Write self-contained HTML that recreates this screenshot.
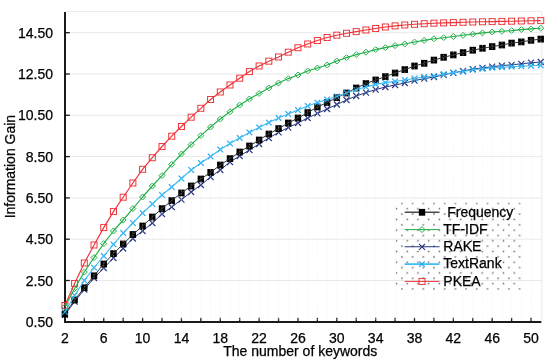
<!DOCTYPE html>
<html><head><meta charset="utf-8"><title>Information Gain</title>
<style>
html,body{margin:0;padding:0;background:#fff}
svg{display:block}
text{font-family:"Liberation Sans",Arial,sans-serif;font-size:14px;fill:#000;stroke:#000;stroke-width:0.25px}
</style></head><body>
<svg width="550" height="362" viewBox="0 0 550 362">
<defs>
<pattern id="dots" x="401.9" y="203.4" width="10.7" height="10.7" patternUnits="userSpaceOnUse">
<rect x="-0.7" y="-0.7" width="1.4" height="1.4" fill="#555"/>
<rect x="10" y="-0.7" width="1.4" height="1.4" fill="#555"/>
<rect x="-0.7" y="10" width="1.4" height="1.4" fill="#555"/>
<rect x="10" y="10" width="1.4" height="1.4" fill="#555"/>
<rect x="4.65" y="4.65" width="1.4" height="1.4" fill="#555"/>
</pattern>
</defs>
<rect width="550" height="362" fill="#fff"/>

<g stroke="#e9e9e9" stroke-width="1" fill="none">
<line x1="66" y1="32.7" x2="542" y2="32.7"/>
<line x1="66" y1="74.0" x2="542" y2="74.0"/>
<line x1="66" y1="115.3" x2="542" y2="115.3"/>
<line x1="66" y1="156.6" x2="542" y2="156.6"/>
<line x1="66" y1="197.9" x2="542" y2="197.9"/>
<line x1="66" y1="239.2" x2="542" y2="239.2"/>
<line x1="66" y1="280.5" x2="542" y2="280.5"/>
<line x1="66" y1="11.6" x2="542" y2="11.6"/><line x1="542" y1="11.6" x2="542" y2="321"/>
</g>
<g stroke="#1a1a1a" fill="none">
<line x1="65.0" y1="12" x2="65.0" y2="322.9" stroke-width="2"/>
<line x1="64.0" y1="321.9" x2="541.3" y2="321.9" stroke-width="2"/>
<line x1="65" y1="32.7" x2="69.8" y2="32.7" stroke-width="1.3"/>
<line x1="65" y1="74.0" x2="69.8" y2="74.0" stroke-width="1.3"/>
<line x1="65" y1="115.3" x2="69.8" y2="115.3" stroke-width="1.3"/>
<line x1="65" y1="156.6" x2="69.8" y2="156.6" stroke-width="1.3"/>
<line x1="65" y1="197.9" x2="69.8" y2="197.9" stroke-width="1.3"/>
<line x1="65" y1="239.2" x2="69.8" y2="239.2" stroke-width="1.3"/>
<line x1="65" y1="280.5" x2="69.8" y2="280.5" stroke-width="1.3"/>
<line x1="84.32" y1="317.8" x2="84.32" y2="321" stroke-width="1.3"/>
<line x1="103.74" y1="317.8" x2="103.74" y2="321" stroke-width="1.3"/>
<line x1="123.17" y1="317.8" x2="123.17" y2="321" stroke-width="1.3"/>
<line x1="142.59" y1="317.8" x2="142.59" y2="321" stroke-width="1.3"/>
<line x1="162.01" y1="317.8" x2="162.01" y2="321" stroke-width="1.3"/>
<line x1="181.43" y1="317.8" x2="181.43" y2="321" stroke-width="1.3"/>
<line x1="200.85" y1="317.8" x2="200.85" y2="321" stroke-width="1.3"/>
<line x1="220.28" y1="317.8" x2="220.28" y2="321" stroke-width="1.3"/>
<line x1="239.7" y1="317.8" x2="239.7" y2="321" stroke-width="1.3"/>
<line x1="259.12" y1="317.8" x2="259.12" y2="321" stroke-width="1.3"/>
<line x1="278.54" y1="317.8" x2="278.54" y2="321" stroke-width="1.3"/>
<line x1="297.96" y1="317.8" x2="297.96" y2="321" stroke-width="1.3"/>
<line x1="317.39" y1="317.8" x2="317.39" y2="321" stroke-width="1.3"/>
<line x1="336.81" y1="317.8" x2="336.81" y2="321" stroke-width="1.3"/>
<line x1="356.23" y1="317.8" x2="356.23" y2="321" stroke-width="1.3"/>
<line x1="375.65" y1="317.8" x2="375.65" y2="321" stroke-width="1.3"/>
<line x1="395.07" y1="317.8" x2="395.07" y2="321" stroke-width="1.3"/>
<line x1="414.5" y1="317.8" x2="414.5" y2="321" stroke-width="1.3"/>
<line x1="433.92" y1="317.8" x2="433.92" y2="321" stroke-width="1.3"/>
<line x1="453.34" y1="317.8" x2="453.34" y2="321" stroke-width="1.3"/>
<line x1="472.76" y1="317.8" x2="472.76" y2="321" stroke-width="1.3"/>
<line x1="492.18" y1="317.8" x2="492.18" y2="321" stroke-width="1.3"/>
<line x1="511.61" y1="317.8" x2="511.61" y2="321" stroke-width="1.3"/>
<line x1="531.03" y1="317.8" x2="531.03" y2="321" stroke-width="1.3"/>
</g>
<g>
<polyline points="64.9,314.8 74.61,301.7 84.32,289.5 94.03,278 103.74,268 113.46,258 123.17,248.5 132.88,238.5 142.59,231 152.3,223 162.01,214 171.72,207 181.43,199.6 191.14,192 200.85,185 210.56,177 220.28,170 229.99,162 239.7,156 249.41,150 259.12,144 268.83,138 278.54,132.4 288.25,127.6 297.96,123 307.68,118 317.39,113.4 327.1,109 336.81,104.5 346.52,100 356.23,96 365.94,92.6 375.65,89.6 385.36,87 395.07,85 404.78,83 414.5,80.6 424.21,78.6 433.92,77 443.63,74.8 453.34,72.8 463.05,71 472.76,69.1 482.47,67.9 492.18,66.7 501.89,65.6 511.61,64.8 521.32,63.9 531.03,62.7 540.74,62" fill="none" stroke="#27357f" stroke-width="1.0" stroke-linejoin="round"/>
<path d="M61.90 311.80L67.90 317.80M61.90 317.80L67.90 311.80" fill="none" stroke="#27357f" stroke-width="1.1"/>
<path d="M71.61 298.70L77.61 304.70M71.61 304.70L77.61 298.70" fill="none" stroke="#27357f" stroke-width="1.1"/>
<path d="M81.32 286.50L87.32 292.50M81.32 292.50L87.32 286.50" fill="none" stroke="#27357f" stroke-width="1.1"/>
<path d="M91.03 275.00L97.03 281.00M91.03 281.00L97.03 275.00" fill="none" stroke="#27357f" stroke-width="1.1"/>
<path d="M100.74 265.00L106.74 271.00M100.74 271.00L106.74 265.00" fill="none" stroke="#27357f" stroke-width="1.1"/>
<path d="M110.46 255.00L116.46 261.00M110.46 261.00L116.46 255.00" fill="none" stroke="#27357f" stroke-width="1.1"/>
<path d="M120.17 245.50L126.17 251.50M120.17 251.50L126.17 245.50" fill="none" stroke="#27357f" stroke-width="1.1"/>
<path d="M129.88 235.50L135.88 241.50M129.88 241.50L135.88 235.50" fill="none" stroke="#27357f" stroke-width="1.1"/>
<path d="M139.59 228.00L145.59 234.00M139.59 234.00L145.59 228.00" fill="none" stroke="#27357f" stroke-width="1.1"/>
<path d="M149.30 220.00L155.30 226.00M149.30 226.00L155.30 220.00" fill="none" stroke="#27357f" stroke-width="1.1"/>
<path d="M159.01 211.00L165.01 217.00M159.01 217.00L165.01 211.00" fill="none" stroke="#27357f" stroke-width="1.1"/>
<path d="M168.72 204.00L174.72 210.00M168.72 210.00L174.72 204.00" fill="none" stroke="#27357f" stroke-width="1.1"/>
<path d="M178.43 196.60L184.43 202.60M178.43 202.60L184.43 196.60" fill="none" stroke="#27357f" stroke-width="1.1"/>
<path d="M188.14 189.00L194.14 195.00M188.14 195.00L194.14 189.00" fill="none" stroke="#27357f" stroke-width="1.1"/>
<path d="M197.85 182.00L203.85 188.00M197.85 188.00L203.85 182.00" fill="none" stroke="#27357f" stroke-width="1.1"/>
<path d="M207.56 174.00L213.56 180.00M207.56 180.00L213.56 174.00" fill="none" stroke="#27357f" stroke-width="1.1"/>
<path d="M217.28 167.00L223.28 173.00M217.28 173.00L223.28 167.00" fill="none" stroke="#27357f" stroke-width="1.1"/>
<path d="M226.99 159.00L232.99 165.00M226.99 165.00L232.99 159.00" fill="none" stroke="#27357f" stroke-width="1.1"/>
<path d="M236.70 153.00L242.70 159.00M236.70 159.00L242.70 153.00" fill="none" stroke="#27357f" stroke-width="1.1"/>
<path d="M246.41 147.00L252.41 153.00M246.41 153.00L252.41 147.00" fill="none" stroke="#27357f" stroke-width="1.1"/>
<path d="M256.12 141.00L262.12 147.00M256.12 147.00L262.12 141.00" fill="none" stroke="#27357f" stroke-width="1.1"/>
<path d="M265.83 135.00L271.83 141.00M265.83 141.00L271.83 135.00" fill="none" stroke="#27357f" stroke-width="1.1"/>
<path d="M275.54 129.40L281.54 135.40M275.54 135.40L281.54 129.40" fill="none" stroke="#27357f" stroke-width="1.1"/>
<path d="M285.25 124.60L291.25 130.60M285.25 130.60L291.25 124.60" fill="none" stroke="#27357f" stroke-width="1.1"/>
<path d="M294.96 120.00L300.96 126.00M294.96 126.00L300.96 120.00" fill="none" stroke="#27357f" stroke-width="1.1"/>
<path d="M304.68 115.00L310.68 121.00M304.68 121.00L310.68 115.00" fill="none" stroke="#27357f" stroke-width="1.1"/>
<path d="M314.39 110.40L320.39 116.40M314.39 116.40L320.39 110.40" fill="none" stroke="#27357f" stroke-width="1.1"/>
<path d="M324.10 106.00L330.10 112.00M324.10 112.00L330.10 106.00" fill="none" stroke="#27357f" stroke-width="1.1"/>
<path d="M333.81 101.50L339.81 107.50M333.81 107.50L339.81 101.50" fill="none" stroke="#27357f" stroke-width="1.1"/>
<path d="M343.52 97.00L349.52 103.00M343.52 103.00L349.52 97.00" fill="none" stroke="#27357f" stroke-width="1.1"/>
<path d="M353.23 93.00L359.23 99.00M353.23 99.00L359.23 93.00" fill="none" stroke="#27357f" stroke-width="1.1"/>
<path d="M362.94 89.60L368.94 95.60M362.94 95.60L368.94 89.60" fill="none" stroke="#27357f" stroke-width="1.1"/>
<path d="M372.65 86.60L378.65 92.60M372.65 92.60L378.65 86.60" fill="none" stroke="#27357f" stroke-width="1.1"/>
<path d="M382.36 84.00L388.36 90.00M382.36 90.00L388.36 84.00" fill="none" stroke="#27357f" stroke-width="1.1"/>
<path d="M392.07 82.00L398.07 88.00M392.07 88.00L398.07 82.00" fill="none" stroke="#27357f" stroke-width="1.1"/>
<path d="M401.78 80.00L407.78 86.00M401.78 86.00L407.78 80.00" fill="none" stroke="#27357f" stroke-width="1.1"/>
<path d="M411.50 77.60L417.50 83.60M411.50 83.60L417.50 77.60" fill="none" stroke="#27357f" stroke-width="1.1"/>
<path d="M421.21 75.60L427.21 81.60M421.21 81.60L427.21 75.60" fill="none" stroke="#27357f" stroke-width="1.1"/>
<path d="M430.92 74.00L436.92 80.00M430.92 80.00L436.92 74.00" fill="none" stroke="#27357f" stroke-width="1.1"/>
<path d="M440.63 71.80L446.63 77.80M440.63 77.80L446.63 71.80" fill="none" stroke="#27357f" stroke-width="1.1"/>
<path d="M450.34 69.80L456.34 75.80M450.34 75.80L456.34 69.80" fill="none" stroke="#27357f" stroke-width="1.1"/>
<path d="M460.05 68.00L466.05 74.00M460.05 74.00L466.05 68.00" fill="none" stroke="#27357f" stroke-width="1.1"/>
<path d="M469.76 66.10L475.76 72.10M469.76 72.10L475.76 66.10" fill="none" stroke="#27357f" stroke-width="1.1"/>
<path d="M479.47 64.90L485.47 70.90M479.47 70.90L485.47 64.90" fill="none" stroke="#27357f" stroke-width="1.1"/>
<path d="M489.18 63.70L495.18 69.70M489.18 69.70L495.18 63.70" fill="none" stroke="#27357f" stroke-width="1.1"/>
<path d="M498.89 62.60L504.89 68.60M498.89 68.60L504.89 62.60" fill="none" stroke="#27357f" stroke-width="1.1"/>
<path d="M508.61 61.80L514.61 67.80M508.61 67.80L514.61 61.80" fill="none" stroke="#27357f" stroke-width="1.1"/>
<path d="M518.32 60.90L524.32 66.90M518.32 66.90L524.32 60.90" fill="none" stroke="#27357f" stroke-width="1.1"/>
<path d="M528.03 59.70L534.03 65.70M528.03 65.70L534.03 59.70" fill="none" stroke="#27357f" stroke-width="1.1"/>
<path d="M537.74 59.00L543.74 65.00M537.74 65.00L543.74 59.00" fill="none" stroke="#27357f" stroke-width="1.1"/>
<rect x="61.70" y="310.60" width="6.4" height="6.8" fill="#000"/>
<rect x="71.41" y="296.60" width="6.4" height="6.8" fill="#000"/>
<rect x="81.12" y="284.30" width="6.4" height="6.8" fill="#000"/>
<rect x="90.83" y="272.40" width="6.4" height="6.8" fill="#000"/>
<rect x="100.54" y="260.60" width="6.4" height="6.8" fill="#000"/>
<rect x="110.26" y="250.20" width="6.4" height="6.8" fill="#000"/>
<rect x="119.97" y="240.60" width="6.4" height="6.8" fill="#000"/>
<rect x="129.68" y="231.10" width="6.4" height="6.8" fill="#000"/>
<rect x="139.39" y="222.60" width="6.4" height="6.8" fill="#000"/>
<rect x="149.10" y="213.60" width="6.4" height="6.8" fill="#000"/>
<rect x="158.81" y="205.20" width="6.4" height="6.8" fill="#000"/>
<rect x="168.52" y="197.20" width="6.4" height="6.8" fill="#000"/>
<rect x="178.23" y="189.60" width="6.4" height="6.8" fill="#000"/>
<rect x="187.94" y="182.60" width="6.4" height="6.8" fill="#000"/>
<rect x="197.65" y="175.60" width="6.4" height="6.8" fill="#000"/>
<rect x="207.36" y="169.00" width="6.4" height="6.8" fill="#000"/>
<rect x="217.08" y="161.60" width="6.4" height="6.8" fill="#000"/>
<rect x="226.79" y="155.20" width="6.4" height="6.8" fill="#000"/>
<rect x="236.50" y="148.60" width="6.4" height="6.8" fill="#000"/>
<rect x="246.21" y="142.60" width="6.4" height="6.8" fill="#000"/>
<rect x="255.92" y="136.60" width="6.4" height="6.8" fill="#000"/>
<rect x="265.63" y="130.60" width="6.4" height="6.8" fill="#000"/>
<rect x="275.34" y="125.20" width="6.4" height="6.8" fill="#000"/>
<rect x="285.05" y="119.60" width="6.4" height="6.8" fill="#000"/>
<rect x="294.76" y="114.60" width="6.4" height="6.8" fill="#000"/>
<rect x="304.48" y="109.20" width="6.4" height="6.8" fill="#000"/>
<rect x="314.19" y="103.60" width="6.4" height="6.8" fill="#000"/>
<rect x="323.90" y="99.10" width="6.4" height="6.8" fill="#000"/>
<rect x="333.61" y="94.20" width="6.4" height="6.8" fill="#000"/>
<rect x="343.32" y="89.60" width="6.4" height="6.8" fill="#000"/>
<rect x="353.03" y="84.60" width="6.4" height="6.8" fill="#000"/>
<rect x="362.74" y="80.20" width="6.4" height="6.8" fill="#000"/>
<rect x="372.45" y="76.60" width="6.4" height="6.8" fill="#000"/>
<rect x="382.16" y="73.20" width="6.4" height="6.8" fill="#000"/>
<rect x="391.87" y="69.60" width="6.4" height="6.8" fill="#000"/>
<rect x="401.58" y="66.20" width="6.4" height="6.8" fill="#000"/>
<rect x="411.30" y="62.60" width="6.4" height="6.8" fill="#000"/>
<rect x="421.01" y="59.90" width="6.4" height="6.8" fill="#000"/>
<rect x="430.72" y="56.70" width="6.4" height="6.8" fill="#000"/>
<rect x="440.43" y="53.90" width="6.4" height="6.8" fill="#000"/>
<rect x="450.14" y="51.50" width="6.4" height="6.8" fill="#000"/>
<rect x="459.85" y="49.20" width="6.4" height="6.8" fill="#000"/>
<rect x="469.56" y="46.80" width="6.4" height="6.8" fill="#000"/>
<rect x="479.27" y="44.90" width="6.4" height="6.8" fill="#000"/>
<rect x="488.98" y="43.20" width="6.4" height="6.8" fill="#000"/>
<rect x="498.69" y="41.60" width="6.4" height="6.8" fill="#000"/>
<rect x="508.41" y="39.70" width="6.4" height="6.8" fill="#000"/>
<rect x="518.12" y="38.50" width="6.4" height="6.8" fill="#000"/>
<rect x="527.83" y="36.90" width="6.4" height="6.8" fill="#000"/>
<rect x="537.54" y="35.70" width="6.4" height="6.8" fill="#000"/>
<path d="M62.10 309.20L67.70 314.80M62.10 314.80L67.70 309.20" fill="none" stroke="#1fa8ef" stroke-width="1.2"/>
<path d="M71.81 292.70L77.41 298.30M71.81 298.30L77.41 292.70" fill="none" stroke="#1fa8ef" stroke-width="1.2"/>
<path d="M81.52 277.70L87.12 283.30M81.52 283.30L87.12 277.70" fill="none" stroke="#1fa8ef" stroke-width="1.2"/>
<path d="M91.23 264.80L96.83 270.40M91.23 270.40L96.83 264.80" fill="none" stroke="#1fa8ef" stroke-width="1.2"/>
<path d="M100.94 253.20L106.54 258.80M100.94 258.80L106.54 253.20" fill="none" stroke="#1fa8ef" stroke-width="1.2"/>
<path d="M110.66 241.60L116.26 247.20M110.66 247.20L116.26 241.60" fill="none" stroke="#1fa8ef" stroke-width="1.2"/>
<path d="M120.37 230.20L125.97 235.80M120.37 235.80L125.97 230.20" fill="none" stroke="#1fa8ef" stroke-width="1.2"/>
<path d="M130.08 220.20L135.68 225.80M130.08 225.80L135.68 220.20" fill="none" stroke="#1fa8ef" stroke-width="1.2"/>
<path d="M139.79 210.20L145.39 215.80M139.79 215.80L145.39 210.20" fill="none" stroke="#1fa8ef" stroke-width="1.2"/>
<path d="M149.50 201.20L155.10 206.80M149.50 206.80L155.10 201.20" fill="none" stroke="#1fa8ef" stroke-width="1.2"/>
<path d="M159.21 192.20L164.81 197.80M159.21 197.80L164.81 192.20" fill="none" stroke="#1fa8ef" stroke-width="1.2"/>
<path d="M168.92 184.20L174.52 189.80M168.92 189.80L174.52 184.20" fill="none" stroke="#1fa8ef" stroke-width="1.2"/>
<path d="M178.63 175.70L184.23 181.30M178.63 181.30L184.23 175.70" fill="none" stroke="#1fa8ef" stroke-width="1.2"/>
<path d="M188.34 167.20L193.94 172.80M188.34 172.80L193.94 167.20" fill="none" stroke="#1fa8ef" stroke-width="1.2"/>
<path d="M198.05 160.20L203.65 165.80M198.05 165.80L203.65 160.20" fill="none" stroke="#1fa8ef" stroke-width="1.2"/>
<path d="M207.76 153.70L213.36 159.30M207.76 159.30L213.36 153.70" fill="none" stroke="#1fa8ef" stroke-width="1.2"/>
<path d="M217.48 146.70L223.08 152.30M217.48 152.30L223.08 146.70" fill="none" stroke="#1fa8ef" stroke-width="1.2"/>
<path d="M227.19 140.70L232.79 146.30M227.19 146.30L232.79 140.70" fill="none" stroke="#1fa8ef" stroke-width="1.2"/>
<path d="M236.90 135.20L242.50 140.80M236.90 140.80L242.50 135.20" fill="none" stroke="#1fa8ef" stroke-width="1.2"/>
<path d="M246.61 129.60L252.21 135.20M246.61 135.20L252.21 129.60" fill="none" stroke="#1fa8ef" stroke-width="1.2"/>
<path d="M256.32 124.60L261.92 130.20M256.32 130.20L261.92 124.60" fill="none" stroke="#1fa8ef" stroke-width="1.2"/>
<path d="M266.03 119.80L271.63 125.40M266.03 125.40L271.63 119.80" fill="none" stroke="#1fa8ef" stroke-width="1.2"/>
<path d="M275.74 115.20L281.34 120.80M275.74 120.80L281.34 115.20" fill="none" stroke="#1fa8ef" stroke-width="1.2"/>
<path d="M285.45 111.20L291.05 116.80M285.45 116.80L291.05 111.20" fill="none" stroke="#1fa8ef" stroke-width="1.2"/>
<path d="M295.16 107.20L300.76 112.80M295.16 112.80L300.76 107.20" fill="none" stroke="#1fa8ef" stroke-width="1.2"/>
<path d="M304.88 103.20L310.48 108.80M304.88 108.80L310.48 103.20" fill="none" stroke="#1fa8ef" stroke-width="1.2"/>
<path d="M314.59 99.80L320.19 105.40M314.59 105.40L320.19 99.80" fill="none" stroke="#1fa8ef" stroke-width="1.2"/>
<path d="M324.30 96.70L329.90 102.30M324.30 102.30L329.90 96.70" fill="none" stroke="#1fa8ef" stroke-width="1.2"/>
<path d="M334.01 93.70L339.61 99.30M334.01 99.30L339.61 93.70" fill="none" stroke="#1fa8ef" stroke-width="1.2"/>
<path d="M343.72 90.20L349.32 95.80M343.72 95.80L349.32 90.20" fill="none" stroke="#1fa8ef" stroke-width="1.2"/>
<path d="M353.43 86.80L359.03 92.40M353.43 92.40L359.03 86.80" fill="none" stroke="#1fa8ef" stroke-width="1.2"/>
<path d="M363.14 84.20L368.74 89.80M363.14 89.80L368.74 84.20" fill="none" stroke="#1fa8ef" stroke-width="1.2"/>
<path d="M372.85 81.60L378.45 87.20M372.85 87.20L378.45 81.60" fill="none" stroke="#1fa8ef" stroke-width="1.2"/>
<path d="M382.56 79.80L388.16 85.40M382.56 85.40L388.16 79.80" fill="none" stroke="#1fa8ef" stroke-width="1.2"/>
<path d="M392.27 78.60L397.87 84.20M392.27 84.20L397.87 78.60" fill="none" stroke="#1fa8ef" stroke-width="1.2"/>
<path d="M401.98 77.20L407.58 82.80M401.98 82.80L407.58 77.20" fill="none" stroke="#1fa8ef" stroke-width="1.2"/>
<path d="M411.70 75.70L417.30 81.30M411.70 81.30L417.30 75.70" fill="none" stroke="#1fa8ef" stroke-width="1.2"/>
<path d="M421.41 74.20L427.01 79.80M421.41 79.80L427.01 74.20" fill="none" stroke="#1fa8ef" stroke-width="1.2"/>
<path d="M431.12 73.20L436.72 78.80M431.12 78.80L436.72 73.20" fill="none" stroke="#1fa8ef" stroke-width="1.2"/>
<path d="M440.83 71.50L446.43 77.10M440.83 77.10L446.43 71.50" fill="none" stroke="#1fa8ef" stroke-width="1.2"/>
<path d="M450.54 69.80L456.14 75.40M450.54 75.40L456.14 69.80" fill="none" stroke="#1fa8ef" stroke-width="1.2"/>
<path d="M460.25 68.70L465.85 74.30M460.25 74.30L465.85 68.70" fill="none" stroke="#1fa8ef" stroke-width="1.2"/>
<path d="M469.96 67.00L475.56 72.60M469.96 72.60L475.56 67.00" fill="none" stroke="#1fa8ef" stroke-width="1.2"/>
<path d="M479.67 66.00L485.27 71.60M479.67 71.60L485.27 66.00" fill="none" stroke="#1fa8ef" stroke-width="1.2"/>
<path d="M489.38 65.10L494.98 70.70M489.38 70.70L494.98 65.10" fill="none" stroke="#1fa8ef" stroke-width="1.2"/>
<path d="M499.09 64.40L504.69 70.00M499.09 70.00L504.69 64.40" fill="none" stroke="#1fa8ef" stroke-width="1.2"/>
<path d="M508.81 63.90L514.41 69.50M508.81 69.50L514.41 63.90" fill="none" stroke="#1fa8ef" stroke-width="1.2"/>
<path d="M518.52 63.50L524.12 69.10M518.52 69.10L524.12 63.50" fill="none" stroke="#1fa8ef" stroke-width="1.2"/>
<path d="M528.23 63.00L533.83 68.60M528.23 68.60L533.83 63.00" fill="none" stroke="#1fa8ef" stroke-width="1.2"/>
<path d="M537.94 62.50L543.54 68.10M537.94 68.10L543.54 62.50" fill="none" stroke="#1fa8ef" stroke-width="1.2"/>
<path d="M61.90 306.8L64.9 303.80L67.90 306.8L64.9 309.80Z" fill="none" stroke="#1fae45" stroke-width="1"/>
<path d="M71.61 288.5L74.61 285.50L77.61 288.5L74.61 291.50Z" fill="none" stroke="#1fae45" stroke-width="1"/>
<path d="M81.32 272L84.32 269.00L87.32 272L84.32 275.00Z" fill="none" stroke="#1fae45" stroke-width="1"/>
<path d="M91.03 257.6L94.03 254.60L97.03 257.6L94.03 260.60Z" fill="none" stroke="#1fae45" stroke-width="1"/>
<path d="M100.74 243.6L103.74 240.60L106.74 243.6L103.74 246.60Z" fill="none" stroke="#1fae45" stroke-width="1"/>
<path d="M110.46 231L113.46 228.00L116.46 231L113.46 234.00Z" fill="none" stroke="#1fae45" stroke-width="1"/>
<path d="M120.17 220L123.17 217.00L126.17 220L123.17 223.00Z" fill="none" stroke="#1fae45" stroke-width="1"/>
<path d="M129.88 208.6L132.88 205.60L135.88 208.6L132.88 211.60Z" fill="none" stroke="#1fae45" stroke-width="1"/>
<path d="M139.59 197L142.59 194.00L145.59 197L142.59 200.00Z" fill="none" stroke="#1fae45" stroke-width="1"/>
<path d="M149.30 186L152.3 183.00L155.30 186L152.3 189.00Z" fill="none" stroke="#1fae45" stroke-width="1"/>
<path d="M159.01 175.6L162.01 172.60L165.01 175.6L162.01 178.60Z" fill="none" stroke="#1fae45" stroke-width="1"/>
<path d="M168.72 164.4L171.72 161.40L174.72 164.4L171.72 167.40Z" fill="none" stroke="#1fae45" stroke-width="1"/>
<path d="M178.43 154L181.43 151.00L184.43 154L181.43 157.00Z" fill="none" stroke="#1fae45" stroke-width="1"/>
<path d="M188.14 144.6L191.14 141.60L194.14 144.6L191.14 147.60Z" fill="none" stroke="#1fae45" stroke-width="1"/>
<path d="M197.85 135.6L200.85 132.60L203.85 135.6L200.85 138.60Z" fill="none" stroke="#1fae45" stroke-width="1"/>
<path d="M207.56 127L210.56 124.00L213.56 127L210.56 130.00Z" fill="none" stroke="#1fae45" stroke-width="1"/>
<path d="M217.28 119L220.28 116.00L223.28 119L220.28 122.00Z" fill="none" stroke="#1fae45" stroke-width="1"/>
<path d="M226.99 111.8L229.99 108.80L232.99 111.8L229.99 114.80Z" fill="none" stroke="#1fae45" stroke-width="1"/>
<path d="M236.70 105L239.7 102.00L242.70 105L239.7 108.00Z" fill="none" stroke="#1fae45" stroke-width="1"/>
<path d="M246.41 99L249.41 96.00L252.41 99L249.41 102.00Z" fill="none" stroke="#1fae45" stroke-width="1"/>
<path d="M256.12 93.4L259.12 90.40L262.12 93.4L259.12 96.40Z" fill="none" stroke="#1fae45" stroke-width="1"/>
<path d="M265.83 88L268.83 85.00L271.83 88L268.83 91.00Z" fill="none" stroke="#1fae45" stroke-width="1"/>
<path d="M275.54 83L278.54 80.00L281.54 83L278.54 86.00Z" fill="none" stroke="#1fae45" stroke-width="1"/>
<path d="M285.25 78.6L288.25 75.60L291.25 78.6L288.25 81.60Z" fill="none" stroke="#1fae45" stroke-width="1"/>
<path d="M294.96 75L297.96 72.00L300.96 75L297.96 78.00Z" fill="none" stroke="#1fae45" stroke-width="1"/>
<path d="M304.68 71L307.68 68.00L310.68 71L307.68 74.00Z" fill="none" stroke="#1fae45" stroke-width="1"/>
<path d="M314.39 68L317.39 65.00L320.39 68L317.39 71.00Z" fill="none" stroke="#1fae45" stroke-width="1"/>
<path d="M324.10 65L327.1 62.00L330.10 65L327.1 68.00Z" fill="none" stroke="#1fae45" stroke-width="1"/>
<path d="M333.81 61L336.81 58.00L339.81 61L336.81 64.00Z" fill="none" stroke="#1fae45" stroke-width="1"/>
<path d="M343.52 57.6L346.52 54.60L349.52 57.6L346.52 60.60Z" fill="none" stroke="#1fae45" stroke-width="1"/>
<path d="M353.23 54.6L356.23 51.60L359.23 54.6L356.23 57.60Z" fill="none" stroke="#1fae45" stroke-width="1"/>
<path d="M362.94 52.2L365.94 49.20L368.94 52.2L365.94 55.20Z" fill="none" stroke="#1fae45" stroke-width="1"/>
<path d="M372.65 49.6L375.65 46.60L378.65 49.6L375.65 52.60Z" fill="none" stroke="#1fae45" stroke-width="1"/>
<path d="M382.36 47.6L385.36 44.60L388.36 47.6L385.36 50.60Z" fill="none" stroke="#1fae45" stroke-width="1"/>
<path d="M392.07 45.6L395.07 42.60L398.07 45.6L395.07 48.60Z" fill="none" stroke="#1fae45" stroke-width="1"/>
<path d="M401.78 44L404.78 41.00L407.78 44L404.78 47.00Z" fill="none" stroke="#1fae45" stroke-width="1"/>
<path d="M411.50 42L414.5 39.00L417.50 42L414.5 45.00Z" fill="none" stroke="#1fae45" stroke-width="1"/>
<path d="M421.21 40.4L424.21 37.40L427.21 40.4L424.21 43.40Z" fill="none" stroke="#1fae45" stroke-width="1"/>
<path d="M430.92 38.8L433.92 35.80L436.92 38.8L433.92 41.80Z" fill="none" stroke="#1fae45" stroke-width="1"/>
<path d="M440.63 37.7L443.63 34.70L446.63 37.7L443.63 40.70Z" fill="none" stroke="#1fae45" stroke-width="1"/>
<path d="M450.34 36.5L453.34 33.50L456.34 36.5L453.34 39.50Z" fill="none" stroke="#1fae45" stroke-width="1"/>
<path d="M460.05 35.3L463.05 32.30L466.05 35.3L463.05 38.30Z" fill="none" stroke="#1fae45" stroke-width="1"/>
<path d="M469.76 34.1L472.76 31.10L475.76 34.1L472.76 37.10Z" fill="none" stroke="#1fae45" stroke-width="1"/>
<path d="M479.47 32.9L482.47 29.90L485.47 32.9L482.47 35.90Z" fill="none" stroke="#1fae45" stroke-width="1"/>
<path d="M489.18 32L492.18 29.00L495.18 32L492.18 35.00Z" fill="none" stroke="#1fae45" stroke-width="1"/>
<path d="M498.89 31.3L501.89 28.30L504.89 31.3L501.89 34.30Z" fill="none" stroke="#1fae45" stroke-width="1"/>
<path d="M508.61 30.6L511.61 27.60L514.61 30.6L511.61 33.60Z" fill="none" stroke="#1fae45" stroke-width="1"/>
<path d="M518.32 29.6L521.32 26.60L524.32 29.6L521.32 32.60Z" fill="none" stroke="#1fae45" stroke-width="1"/>
<path d="M528.03 28.9L531.03 25.90L534.03 28.9L531.03 31.90Z" fill="none" stroke="#1fae45" stroke-width="1"/>
<path d="M537.74 28.2L540.74 25.20L543.74 28.2L540.74 31.20Z" fill="none" stroke="#1fae45" stroke-width="1"/>
<rect x="61.90" y="302.50" width="6" height="6" fill="none" stroke="#ee3338" stroke-width="1"/>
<rect x="71.61" y="280.50" width="6" height="6" fill="none" stroke="#ee3338" stroke-width="1"/>
<rect x="81.32" y="260.00" width="6" height="6" fill="none" stroke="#ee3338" stroke-width="1"/>
<rect x="91.03" y="242.00" width="6" height="6" fill="none" stroke="#ee3338" stroke-width="1"/>
<rect x="100.74" y="224.60" width="6" height="6" fill="none" stroke="#ee3338" stroke-width="1"/>
<rect x="110.46" y="208.60" width="6" height="6" fill="none" stroke="#ee3338" stroke-width="1"/>
<rect x="120.17" y="194.20" width="6" height="6" fill="none" stroke="#ee3338" stroke-width="1"/>
<rect x="129.88" y="180.00" width="6" height="6" fill="none" stroke="#ee3338" stroke-width="1"/>
<rect x="139.59" y="166.30" width="6" height="6" fill="none" stroke="#ee3338" stroke-width="1"/>
<rect x="149.30" y="154.70" width="6" height="6" fill="none" stroke="#ee3338" stroke-width="1"/>
<rect x="159.01" y="143.50" width="6" height="6" fill="none" stroke="#ee3338" stroke-width="1"/>
<rect x="168.72" y="133.20" width="6" height="6" fill="none" stroke="#ee3338" stroke-width="1"/>
<rect x="178.43" y="123.50" width="6" height="6" fill="none" stroke="#ee3338" stroke-width="1"/>
<rect x="188.14" y="114.20" width="6" height="6" fill="none" stroke="#ee3338" stroke-width="1"/>
<rect x="197.85" y="105.30" width="6" height="6" fill="none" stroke="#ee3338" stroke-width="1"/>
<rect x="207.56" y="96.50" width="6" height="6" fill="none" stroke="#ee3338" stroke-width="1"/>
<rect x="217.28" y="89.00" width="6" height="6" fill="none" stroke="#ee3338" stroke-width="1"/>
<rect x="226.99" y="82.00" width="6" height="6" fill="none" stroke="#ee3338" stroke-width="1"/>
<rect x="236.70" y="75.20" width="6" height="6" fill="none" stroke="#ee3338" stroke-width="1"/>
<rect x="246.41" y="68.60" width="6" height="6" fill="none" stroke="#ee3338" stroke-width="1"/>
<rect x="256.12" y="63.00" width="6" height="6" fill="none" stroke="#ee3338" stroke-width="1"/>
<rect x="265.83" y="58.20" width="6" height="6" fill="none" stroke="#ee3338" stroke-width="1"/>
<rect x="275.54" y="54.00" width="6" height="6" fill="none" stroke="#ee3338" stroke-width="1"/>
<rect x="285.25" y="49.20" width="6" height="6" fill="none" stroke="#ee3338" stroke-width="1"/>
<rect x="294.96" y="44.70" width="6" height="6" fill="none" stroke="#ee3338" stroke-width="1"/>
<rect x="304.68" y="41.00" width="6" height="6" fill="none" stroke="#ee3338" stroke-width="1"/>
<rect x="314.39" y="37.50" width="6" height="6" fill="none" stroke="#ee3338" stroke-width="1"/>
<rect x="324.10" y="34.50" width="6" height="6" fill="none" stroke="#ee3338" stroke-width="1"/>
<rect x="333.81" y="32.20" width="6" height="6" fill="none" stroke="#ee3338" stroke-width="1"/>
<rect x="343.52" y="30.30" width="6" height="6" fill="none" stroke="#ee3338" stroke-width="1"/>
<rect x="353.23" y="28.60" width="6" height="6" fill="none" stroke="#ee3338" stroke-width="1"/>
<rect x="362.94" y="27.00" width="6" height="6" fill="none" stroke="#ee3338" stroke-width="1"/>
<rect x="372.65" y="25.50" width="6" height="6" fill="none" stroke="#ee3338" stroke-width="1"/>
<rect x="382.36" y="24.00" width="6" height="6" fill="none" stroke="#ee3338" stroke-width="1"/>
<rect x="392.07" y="22.90" width="6" height="6" fill="none" stroke="#ee3338" stroke-width="1"/>
<rect x="401.78" y="22.00" width="6" height="6" fill="none" stroke="#ee3338" stroke-width="1"/>
<rect x="411.50" y="21.30" width="6" height="6" fill="none" stroke="#ee3338" stroke-width="1"/>
<rect x="421.21" y="20.70" width="6" height="6" fill="none" stroke="#ee3338" stroke-width="1"/>
<rect x="430.92" y="20.20" width="6" height="6" fill="none" stroke="#ee3338" stroke-width="1"/>
<rect x="440.63" y="19.90" width="6" height="6" fill="none" stroke="#ee3338" stroke-width="1"/>
<rect x="450.34" y="19.60" width="6" height="6" fill="none" stroke="#ee3338" stroke-width="1"/>
<rect x="460.05" y="19.30" width="6" height="6" fill="none" stroke="#ee3338" stroke-width="1"/>
<rect x="469.76" y="19.00" width="6" height="6" fill="none" stroke="#ee3338" stroke-width="1"/>
<rect x="479.47" y="18.80" width="6" height="6" fill="none" stroke="#ee3338" stroke-width="1"/>
<rect x="489.18" y="18.60" width="6" height="6" fill="none" stroke="#ee3338" stroke-width="1"/>
<rect x="498.89" y="18.40" width="6" height="6" fill="none" stroke="#ee3338" stroke-width="1"/>
<rect x="508.61" y="18.20" width="6" height="6" fill="none" stroke="#ee3338" stroke-width="1"/>
<rect x="518.32" y="18.00" width="6" height="6" fill="none" stroke="#ee3338" stroke-width="1"/>
<rect x="528.03" y="17.80" width="6" height="6" fill="none" stroke="#ee3338" stroke-width="1"/>
<rect x="537.74" y="17.60" width="6" height="6" fill="none" stroke="#ee3338" stroke-width="1"/>
</g>
<g stroke="#ececec" stroke-width="1" stroke-dasharray="1.5 1.4" opacity="0.45" fill="none">
<line x1="74.61" y1="280.5" x2="74.61" y2="320"/>
<line x1="84.32" y1="260" x2="84.32" y2="320"/>
<line x1="94.03" y1="242" x2="94.03" y2="320"/>
<line x1="103.74" y1="224.6" x2="103.74" y2="320"/>
<line x1="113.46" y1="208.6" x2="113.46" y2="320"/>
<line x1="123.17" y1="194.2" x2="123.17" y2="320"/>
<line x1="132.88" y1="180" x2="132.88" y2="320"/>
<line x1="142.59" y1="166.3" x2="142.59" y2="320"/>
<line x1="152.3" y1="154.7" x2="152.3" y2="320"/>
<line x1="162.01" y1="143.5" x2="162.01" y2="320"/>
<line x1="171.72" y1="133.2" x2="171.72" y2="320"/>
<line x1="181.43" y1="123.5" x2="181.43" y2="320"/>
<line x1="191.14" y1="114.2" x2="191.14" y2="320"/>
<line x1="200.85" y1="105.3" x2="200.85" y2="320"/>
<line x1="210.56" y1="96.5" x2="210.56" y2="320"/>
<line x1="220.28" y1="89" x2="220.28" y2="320"/>
<line x1="229.99" y1="82" x2="229.99" y2="320"/>
<line x1="239.7" y1="75.2" x2="239.7" y2="320"/>
<line x1="249.41" y1="68.6" x2="249.41" y2="320"/>
<line x1="259.12" y1="63" x2="259.12" y2="320"/>
<line x1="268.83" y1="58.2" x2="268.83" y2="320"/>
<line x1="278.54" y1="54" x2="278.54" y2="320"/>
<line x1="288.25" y1="49.2" x2="288.25" y2="320"/>
<line x1="297.96" y1="44.7" x2="297.96" y2="320"/>
<line x1="307.68" y1="41" x2="307.68" y2="320"/>
<line x1="317.39" y1="37.5" x2="317.39" y2="320"/>
<line x1="327.1" y1="34.5" x2="327.1" y2="320"/>
<line x1="336.81" y1="32.2" x2="336.81" y2="320"/>
<line x1="346.52" y1="30.299999999999997" x2="346.52" y2="320"/>
<line x1="356.23" y1="28.6" x2="356.23" y2="320"/>
<line x1="365.94" y1="27" x2="365.94" y2="320"/>
<line x1="375.65" y1="25.5" x2="375.65" y2="320"/>
<line x1="385.36" y1="24" x2="385.36" y2="320"/>
<line x1="395.07" y1="22.9" x2="395.07" y2="320"/>
<line x1="404.78" y1="22" x2="404.78" y2="320"/>
<line x1="414.5" y1="21.3" x2="414.5" y2="320"/>
<line x1="424.21" y1="20.7" x2="424.21" y2="320"/>
<line x1="433.92" y1="20.2" x2="433.92" y2="320"/>
<line x1="443.63" y1="19.9" x2="443.63" y2="320"/>
<line x1="453.34" y1="19.6" x2="453.34" y2="320"/>
<line x1="463.05" y1="19.3" x2="463.05" y2="320"/>
<line x1="472.76" y1="19.0" x2="472.76" y2="320"/>
<line x1="482.47" y1="18.8" x2="482.47" y2="320"/>
<line x1="492.18" y1="18.6" x2="492.18" y2="320"/>
<line x1="501.89" y1="18.4" x2="501.89" y2="320"/>
<line x1="511.61" y1="18.2" x2="511.61" y2="320"/>
<line x1="521.32" y1="18.0" x2="521.32" y2="320"/>
<line x1="531.03" y1="17.8" x2="531.03" y2="320"/>
<line x1="540.74" y1="17.6" x2="540.74" y2="320"/>
</g>
<g>
<polyline points="64.9,314 74.61,300 84.32,287.7 94.03,275.8 103.74,264 113.46,253.6 123.17,244 132.88,234.5 142.59,226 152.3,217 162.01,208.6 171.72,200.6 181.43,193 191.14,186 200.85,179 210.56,172.4 220.28,165 229.99,158.6 239.7,152 249.41,146 259.12,140 268.83,134 278.54,128.6 288.25,123 297.96,118 307.68,112.6 317.39,107 327.1,102.5 336.81,97.6 346.52,93 356.23,88 365.94,83.6 375.65,80 385.36,76.6 395.07,73 404.78,69.6 414.5,66 424.21,63.3 433.92,60.1 443.63,57.3 453.34,54.9 463.05,52.6 472.76,50.2 482.47,48.3 492.18,46.6 501.89,45 511.61,43.1 521.32,41.9 531.03,40.3 540.74,39.1" fill="none" stroke="#333" stroke-width="1.0" stroke-linejoin="round"/>
<polyline points="64.9,312 74.61,295.5 84.32,280.5 94.03,267.6 103.74,256 113.46,244.4 123.17,233 132.88,223 142.59,213 152.3,204 162.01,195 171.72,187 181.43,178.5 191.14,170 200.85,163 210.56,156.5 220.28,149.5 229.99,143.5 239.7,138 249.41,132.4 259.12,127.4 268.83,122.6 278.54,118 288.25,114 297.96,110 307.68,106 317.39,102.6 327.1,99.5 336.81,96.5 346.52,93 356.23,89.6 365.94,87 375.65,84.4 385.36,82.6 395.07,81.4 404.78,80 414.5,78.5 424.21,77 433.92,76 443.63,74.3 453.34,72.6 463.05,71.5 472.76,69.8 482.47,68.8 492.18,67.9 501.89,67.2 511.61,66.7 521.32,66.3 531.03,65.8 540.74,65.3" fill="none" stroke="#3dbcf5" stroke-width="1.1" stroke-linejoin="round"/>
<polyline points="64.9,306.8 74.61,288.5 84.32,272 94.03,257.6 103.74,243.6 113.46,231 123.17,220 132.88,208.6 142.59,197 152.3,186 162.01,175.6 171.72,164.4 181.43,154 191.14,144.6 200.85,135.6 210.56,127 220.28,119 229.99,111.8 239.7,105 249.41,99 259.12,93.4 268.83,88 278.54,83 288.25,78.6 297.96,75 307.68,71 317.39,68 327.1,65 336.81,61 346.52,57.6 356.23,54.6 365.94,52.2 375.65,49.6 385.36,47.6 395.07,45.6 404.78,44 414.5,42 424.21,40.4 433.92,38.8 443.63,37.7 453.34,36.5 463.05,35.3 472.76,34.1 482.47,32.9 492.18,32 501.89,31.3 511.61,30.6 521.32,29.6 531.03,28.9 540.74,28.2" fill="none" stroke="#1fae45" stroke-width="1.15" stroke-linejoin="round"/>
<polyline points="64.9,305.5 74.61,283.5 84.32,263 94.03,245 103.74,227.6 113.46,211.6 123.17,197.2 132.88,183 142.59,169.3 152.3,157.7 162.01,146.5 171.72,136.2 181.43,126.5 191.14,117.2 200.85,108.3 210.56,99.5 220.28,92 229.99,85 239.7,78.2 249.41,71.6 259.12,66 268.83,61.2 278.54,57 288.25,52.2 297.96,47.7 307.68,44 317.39,40.5 327.1,37.5 336.81,35.2 346.52,33.3 356.23,31.6 365.94,30 375.65,28.5 385.36,27 395.07,25.9 404.78,25 414.5,24.3 424.21,23.7 433.92,23.2 443.63,22.9 453.34,22.6 463.05,22.3 472.76,22.0 482.47,21.8 492.18,21.6 501.89,21.4 511.61,21.2 521.32,21.0 531.03,20.8 540.74,20.6" fill="none" stroke="#ee3338" stroke-width="1.15" stroke-linejoin="round"/>
</g>
<text x="53" y="37.7" text-anchor="end">14.50</text>
<text x="53" y="79.0" text-anchor="end">12.50</text>
<text x="53" y="120.3" text-anchor="end">10.50</text>
<text x="53" y="161.6" text-anchor="end">8.50</text>
<text x="53" y="202.9" text-anchor="end">6.50</text>
<text x="53" y="244.2" text-anchor="end">4.50</text>
<text x="53" y="285.5" text-anchor="end">2.50</text>
<text x="53" y="327.0" text-anchor="end">0.50</text>
<text x="64.9" y="343.3" text-anchor="middle">2</text>
<text x="103.74" y="343.3" text-anchor="middle">6</text>
<text x="142.59" y="343.3" text-anchor="middle">10</text>
<text x="181.43" y="343.3" text-anchor="middle">14</text>
<text x="220.28" y="343.3" text-anchor="middle">18</text>
<text x="259.12" y="343.3" text-anchor="middle">22</text>
<text x="297.96" y="343.3" text-anchor="middle">26</text>
<text x="336.81" y="343.3" text-anchor="middle">30</text>
<text x="375.65" y="343.3" text-anchor="middle">34</text>
<text x="414.5" y="343.3" text-anchor="middle">38</text>
<text x="453.34" y="343.3" text-anchor="middle">42</text>
<text x="492.18" y="343.3" text-anchor="middle">46</text>
<text x="531.03" y="343.3" text-anchor="middle">50</text>
<text x="300.3" y="355.9" text-anchor="middle">The number of keywords</text>
<text transform="translate(14.6,166.6) rotate(-90)" text-anchor="middle">Information Gain</text>
<rect x="395.6" y="202.5" width="125.2" height="87.3" fill="url(#dots)"/>
<line x1="404.7" y1="212.3" x2="439.5" y2="212.3" stroke="#4a4a4a" stroke-width="1.4"/>
<rect x="418.80" y="208.90" width="6.4" height="6.8" fill="#000"/>
<text x="443.3" y="216.6" xml:space="preserve"> Frequency</text>
<line x1="404.7" y1="229.6" x2="439.5" y2="229.6" stroke="#1fae45" stroke-width="1.0"/>
<path d="M419.00 229.6L422 226.60L425.00 229.6L422 232.60Z" fill="none" stroke="#1fae45" stroke-width="1"/>
<text x="443.3" y="233.9" xml:space="preserve">TF-IDF</text>
<line x1="404.7" y1="246.8" x2="439.5" y2="246.8" stroke="#27357f" stroke-width="1.1"/>
<path d="M419.00 243.80L425.00 249.80M419.00 249.80L425.00 243.80" fill="none" stroke="#27357f" stroke-width="1.1"/>
<text x="443.3" y="251.1" xml:space="preserve">RAKE</text>
<line x1="404.7" y1="264.1" x2="439.5" y2="264.1" stroke="#3dbcf5" stroke-width="1.6"/>
<path d="M419.20 261.30L424.80 266.90M419.20 266.90L424.80 261.30" fill="none" stroke="#1fa8ef" stroke-width="1.2"/>
<text x="443.3" y="268.4" xml:space="preserve">TextRank</text>
<line x1="404.7" y1="281.4" x2="439.5" y2="281.4" stroke="#ee3338" stroke-width="1.0"/>
<rect x="419.00" y="278.40" width="6" height="6" fill="none" stroke="#ee3338" stroke-width="1"/>
<text x="443.3" y="285.7" xml:space="preserve">PKEA</text>
</svg></body></html>
